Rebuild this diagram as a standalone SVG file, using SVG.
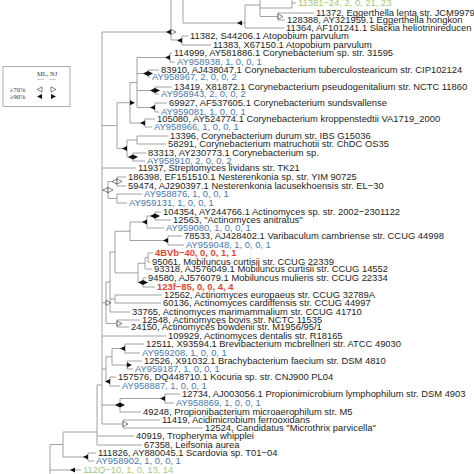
<svg xmlns="http://www.w3.org/2000/svg" xmlns:xlink="http://www.w3.org/1999/xlink" width="474" height="474" viewBox="0 0 474 474">
<style>
.t{font-family:"Liberation Sans",Arial,sans-serif;font-size:9.4px;fill:#1e1e1e}
.b{fill:#4a78b0}.r{fill:#e4472d;font-weight:bold}.g{fill:#9fcb80}
.e{stroke:#8c8c8c;stroke-width:0.8;fill:none}
.lg{font-family:"Liberation Serif",serif;font-size:6.5px;fill:#333}
.mb{fill:#111}.mo{fill:#fff;stroke:#333;stroke-width:0.6}
</style>
<defs>
<polygon id="Lb" class="mb" points="-5,0 0,-2.6 0,2.6"/>
<polygon id="Rb" class="mb" points="0,-2.6 5,0 0,2.6"/>
<polygon id="Lo" class="mo" points="-5,0 0,-2.6 0,2.6"/>
<polygon id="Ro" class="mo" points="0,-2.6 5,0 0,2.6"/>
</defs>
<rect width="474" height="474" fill="#fff"/>
<g id="legend">
<rect x="3" y="66.5" width="67" height="40" fill="#fff" stroke="#999" stroke-width="0.8"/>
<text class="lg" x="37" y="75.5">ML, NJ</text>
<path d="M37 79.5H44M49 79.5H56" stroke="#aaa" stroke-width="0.6"/>
<text class="lg" x="10" y="91.5">≥70%</text>
<text class="lg" x="10" y="98.5">≥90%</text>
<use xlink:href="#Lo" x="42" y="89.5"/><use xlink:href="#Ro" x="51" y="89.5"/>
<use xlink:href="#Lb" x="42" y="96.5"/><use xlink:href="#Rb" x="51" y="96.5"/>
</g>
<g id="connectors" class="e">
<path d="M183 0V23H245M245 5V28H284M245 5H260M260 0V16.5H278M278 13V20M278 13H314M278 20H285M260 8H292V0M292 3H296"/>
<path d="M102 32H171M171 0V40H182M182 36V45M182 36H188M182 45H211M102 32V424"/>
<path d="M170 53V62M170 53H172M170 62H175M148 70V77M148 70H159M148 77H150M155 87V94M155 87H172M155 94H159M155 103V112M155 103H167M155 112H159M137 57.5V107.5M137 57.5H170M137 73.5H148M137 90.5H155M137 107.5H155M145 119V127M145 119H155M145 127H152M130 82.5V123M130 82.5H137M130 123H145M137 136V144M137 136H168M137 144H166M133 153V161M133 153H146M133 161H145M127 140V157M127 140H137M127 157H133M117 102.75V148.5M117 102.75H130M117 148.5H127M102 125.6H117"/>
<path d="M102 168H136M117 177V186M117 177H126M117 186H126M117 194V203M117 194H142M117 203H127M108 181.5V198.5M108 181.5H117M108 198.5H117M102 190H108"/>
<path d="M155 212V220M155 212H161M155 220H171M147 216V228M147 216H155M147 228H164M168 236V245M168 236H182M168 245H184M130 222V240.5M130 222H147M130 240.5H168M148 253V262M148 253H153M148 262H150M145 257.5V269M145 257.5H148M145 269H152M143 278V287M143 278H146M143 287H155M138 263.25V282.5M138 263.25H145M138 282.5H143M115 231.25V272.9M115 231.25H130M115 272.9H138M115 295V303M115 295H162M115 303H161M110 252V312M110 252H115M110 299H115M110 312H130M117 320V327M117 320H140M117 327H129M106 282V323.5M106 282H110M106 323.5H117M102 302.75H106M102 336H166"/>
<path d="M125 344V353M125 344H144M125 353H140M127 361V369M127 361H142M127 369H133M112 348.5V365M112 348.5H125M112 365H127M110 377V386M110 377H116M110 386H120M106 356.75V381.5M106 356.75H112M106 381.5H110M102 369H106"/>
<path d="M165 394V403M165 394H180M165 403H174M120 398.5V412M120 398.5H165M120 412H141M102 405H120M123 420V428M123 420H160M123 428H203M102 424H123"/>
<path d="M97 385V445M97 385H102M97 436H134M97 445H142M63 432H97M63 432V457H88M88 453V461M88 453H96M88 461H94M50 444.5V474M50 444.5H63M50 470H81"/>
</g>
<g id="support">
<use xlink:href="#Lb" x="242" y="23"/>
<use xlink:href="#Ro" x="278" y="16.5"/>
<use xlink:href="#Lb" x="171" y="32"/><use xlink:href="#Ro" x="171" y="32"/>
<use xlink:href="#Lb" x="182" y="40.5"/>
<use xlink:href="#Lb" x="170" y="57.5"/>
<use xlink:href="#Lb" x="148" y="73.5"/><use xlink:href="#Rb" x="148" y="73.5"/>
<use xlink:href="#Lb" x="155" y="90.5"/><use xlink:href="#Rb" x="155" y="90.5"/>
<use xlink:href="#Lb" x="155" y="107.5"/>
<use xlink:href="#Lb" x="145" y="123"/>
<use xlink:href="#Rb" x="130" y="102.75"/>
<use xlink:href="#Lb" x="127" y="148.5"/>
<use xlink:href="#Lb" x="133" y="157"/><use xlink:href="#Rb" x="133" y="157"/>
<use xlink:href="#Lo" x="117" y="181.5"/><use xlink:href="#Ro" x="117" y="181.5"/>
<use xlink:href="#Lo" x="108" y="190"/><use xlink:href="#Ro" x="108" y="190"/>
<use xlink:href="#Lb" x="155" y="216"/><use xlink:href="#Rb" x="155" y="216"/>
<use xlink:href="#Lb" x="147" y="222"/>
<use xlink:href="#Lb" x="168" y="240.5"/>
<use xlink:href="#Lb" x="143" y="282.5"/><use xlink:href="#Rb" x="143" y="282.5"/>
<use xlink:href="#Ro" x="117" y="323.5"/>
<use xlink:href="#Ro" x="106" y="302.75"/>
<use xlink:href="#Lb" x="125" y="348.5"/>
<use xlink:href="#Rb" x="127" y="365"/>
<use xlink:href="#Lb" x="110" y="381.5"/>
<use xlink:href="#Lb" x="165" y="398.5"/>
<use xlink:href="#Lb" x="120" y="405"/><use xlink:href="#Rb" x="120" y="405"/>
<use xlink:href="#Ro" x="123" y="424"/>
<use xlink:href="#Lb" x="88" y="457"/>
<use xlink:href="#Lb" x="75" y="470"/>
</g>
<g id="n1"><text class="t g" x="298" y="6.3">11381−24, 2, 0, 21, 23</text></g>
<g id="n2"><text class="t" x="316" y="16.3">11372, Eggerthella lenta str. JCM9979</text></g>
<g id="n3"><text class="t" x="287" y="23.3">128388, AY321959.1 Eggerthella hongkon</text></g>
<g id="n4"><text class="t" x="286" y="31.3">11364, AF101241.1 Slackia heliotrinireducen</text></g>
<g id="n5"><text class="t" x="190" y="39.3">11382, S44206.1 Atopobium parvulum</text></g>
<g id="n6"><text class="t" x="213" y="48.3">11383, X67150.1 Atopobium parvulum</text></g>
<g id="n7"><text class="t" x="174" y="56.3">114999, AY581886.1 Corynebacterium sp. str. 31595</text></g>
<g id="n8"><text class="t b" x="177" y="65.3">AY958938, 1, 0, 0, 1</text></g>
<g id="n9"><text class="t" x="161" y="73.3">83910, AJ438047.1 Corynebacterium tuberculostearicum str. CIP102124</text></g>
<g id="n10"><text class="t b" x="152" y="80.3">AY958967, 2, 0, 0, 2</text></g>
<g id="n11"><text class="t" x="174" y="90.3">13419, X81872.1 Corynebacterium pseudogenitalium str. NCTC 11860</text></g>
<g id="n12"><text class="t b" x="161" y="97.3">AY958943, 2, 0, 0, 2</text></g>
<g id="n13"><text class="t" x="169" y="106.3">69927, AF537605.1 Corynebacterium sundsvallense</text></g>
<g id="n14"><text class="t b" x="161" y="115.3">AY959081, 1, 0, 0, 1</text></g>
<g id="n15"><text class="t" x="157" y="122.3">105080, AY524774.1 Corynebacterium kroppenstedtii VA1719_2000</text></g>
<g id="n16"><text class="t b" x="154" y="130.3">AY958966, 1, 0, 0, 1</text></g>
<g id="n17"><text class="t" x="170" y="139.3">13396, Corynebacterium durum str. IBS G15036</text></g>
<g id="n18"><text class="t" x="168" y="147.3">58291, Corynebacterium matruchotii str. ChDC OS35</text></g>
<g id="n19"><text class="t" x="148" y="156.3">83313, AY230773.1 Corynebacterium sp.</text></g>
<g id="n20"><text class="t b" x="147" y="164.3">AY958910, 2, 0, 0, 2</text></g>
<g id="n21"><text class="t" x="138" y="171.3">11937, Streptomyces lividans str. TK21</text></g>
<g id="n22"><text class="t" x="128" y="180.3">186398, EF151510.1 Nesterenkonia sp. str. YIM 90725</text></g>
<g id="n23"><text class="t" x="128" y="189.3">59474, AJ290397.1 Nesterenkonia lacusekhoensis str. EL−30</text></g>
<g id="n24"><text class="t b" x="144" y="197.3">AY958876, 1, 0, 0, 1</text></g>
<g id="n25"><text class="t b" x="129" y="206.3">AY959131, 1, 0, 0, 1</text></g>
<g id="n26"><text class="t" x="163" y="215.3">104354, AY244766.1 Actinomyces sp. str. 2002−2301122</text></g>
<g id="n27"><text class="t" x="173" y="223.3">12563, "Actinomyces anitratus"</text></g>
<g id="n28"><text class="t b" x="166" y="231.3">AY959080, 1, 0, 0, 1</text></g>
<g id="n29"><text class="t" x="184" y="239.3">78533, AJ428402.1 Varibaculum cambriense str. CCUG 44998</text></g>
<g id="n30"><text class="t b" x="186" y="248.3">AY959048, 1, 0, 0, 1</text></g>
<g id="n31"><text class="t r" x="155" y="256.3">4BVb−40, 0, 0, 1, 1</text></g>
<g id="n32"><text class="t" x="152" y="265.3">95061, Mobiluncus curtisii str. CCUG 22339</text></g>
<g id="n33"><text class="t" x="154" y="272.3">93318, AJ576049.1 Mobiluncus curtisii str. CCUG 14552</text></g>
<g id="n34"><text class="t" x="148" y="281.3">94580, AJ576079.1 Mobiluncus mulieris str. CCUG 22334</text></g>
<g id="n35"><text class="t r" x="157" y="290.3">123f−85, 0, 0, 4, 4</text></g>
<g id="n36"><text class="t" x="164" y="298.3">12562, Actinomyces europaeus str. CCUG 32789A</text></g>
<g id="n37"><text class="t" x="163" y="306.3">60136, Actinomyces cardiffensis str. CCUG 44997</text></g>
<g id="n38"><text class="t" x="132" y="315.3">33765, Actinomyces marimammalium str. CCUG 41710</text></g>
<g id="n39"><text class="t" x="142" y="323.3">12548, Actinomyces bovis str. NCTC 11535</text></g>
<g id="n40"><text class="t" x="131" y="330.3">24150, Actinomyces bowdenii str. M1956/95/1</text></g>
<g id="n41"><text class="t" x="168" y="339.3">109929, Actinomyces dentalis str. R18165</text></g>
<g id="n42"><text class="t" x="146" y="347.3">12511, X93594.1 Brevibacterium mcbrellneri str. ATCC 49030</text></g>
<g id="n43"><text class="t b" x="142" y="356.3">AY959208, 1, 0, 0, 1</text></g>
<g id="n44"><text class="t" x="144" y="364.3">12526, X91032.1 Brachybacterium faecium str. DSM 4810</text></g>
<g id="n45"><text class="t b" x="135" y="372.3">AY959187, 1, 0, 0, 1</text></g>
<g id="n46"><text class="t" x="118" y="380.3">157576, DQ448710.1 Kocuria sp. str. CNJ900 PL04</text></g>
<g id="n47"><text class="t b" x="122" y="389.3">AY958887, 1, 0, 0, 1</text></g>
<g id="n48"><text class="t" x="182" y="397.3">12734, AJ003056.1 Propionimicrobium lymphophilum str. DSM 4903</text></g>
<g id="n49"><text class="t b" x="176" y="406.3">AY958869, 1, 0, 0, 1</text></g>
<g id="n50"><text class="t" x="143" y="415.3">49248, Propionibacterium microaerophilum str. M5</text></g>
<g id="n51"><text class="t" x="162" y="423.3">11419, Acidimicrobium ferrooxidans</text></g>
<g id="n52"><text class="t" x="205" y="431.3">12524, Candidatus "Microthrix parvicella"</text></g>
<g id="n53"><text class="t" x="136" y="439.3">40919, Tropheryma whipplei</text></g>
<g id="n54"><text class="t" x="144" y="448.3">67358, Leifsonia aurea</text></g>
<g id="n55"><text class="t" x="98" y="456.3">111826, AY880045.1 Scardovia sp. T01−04</text></g>
<g id="n56"><text class="t b" x="96" y="464.3">AY958902, 1, 0, 0, 1</text></g>
<g id="n57"><text class="t g" x="83" y="473.3">112Q−10, 1, 0, 13, 14</text></g>
</svg>
